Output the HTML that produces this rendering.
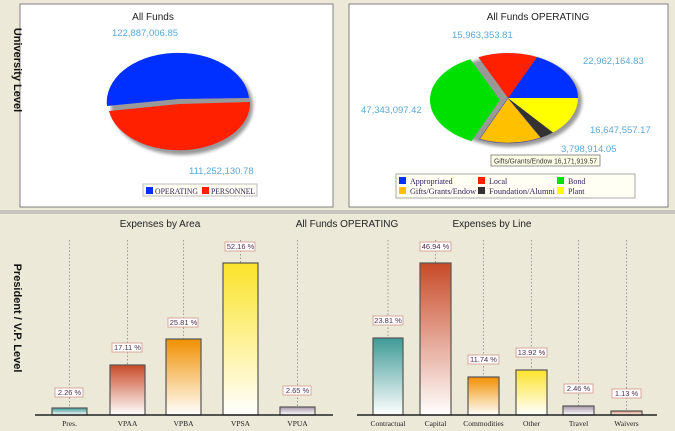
<!DOCTYPE html>
<html><head><meta charset="utf-8"><style>
html,body{margin:0;padding:0;background:#ece9d8;}
svg{display:block;font-family:"Liberation Sans",sans-serif;}
.v{fill:#5aa8d8;font-size:9.5px;}
.t{fill:#222;font-size:10px;}
.lb{fill:#fff;stroke:#d8a898;stroke-width:1;}
.lt{fill:#503050;font-size:7.5px;text-anchor:middle;}
.ct{fill:#222;font-size:7.5px;font-family:"Liberation Serif",serif;text-anchor:middle;}
.dl{stroke:#999;stroke-dasharray:1.5,2;stroke-width:1;}
.bar{stroke:#555;stroke-width:1.2;}
.lg{font-family:"Liberation Serif",serif;font-size:8px;fill:#302060;}
</style></head><body>
<svg width="675" height="431" viewBox="0 0 675 431">
<defs>
<linearGradient id="gT" x1="0" y1="0" x2="0" y2="1"><stop offset="0" stop-color="#3f9a96"/><stop offset="1" stop-color="#fff"/></linearGradient>
<linearGradient id="gR" x1="0" y1="0" x2="0" y2="1"><stop offset="0" stop-color="#c84a28"/><stop offset="1" stop-color="#fff"/></linearGradient>
<linearGradient id="gO" x1="0" y1="0" x2="0" y2="1"><stop offset="0" stop-color="#f09000"/><stop offset="1" stop-color="#fff"/></linearGradient>
<linearGradient id="gY" x1="0" y1="0" x2="0" y2="1"><stop offset="0" stop-color="#fbe32a"/><stop offset="1" stop-color="#fff"/></linearGradient>
<linearGradient id="gP" x1="0" y1="0" x2="0" y2="1"><stop offset="0" stop-color="#a898a8"/><stop offset="1" stop-color="#fff"/></linearGradient>
<linearGradient id="gB" x1="0" y1="0" x2="0" y2="1"><stop offset="0" stop-color="#d88860"/><stop offset="1" stop-color="#fff"/></linearGradient>
<filter id="bl"><feGaussianBlur stdDeviation="1.5"/></filter>
</defs>
<rect x="20" y="4" width="313" height="203" fill="#fff" stroke="#808080" stroke-width="1"/>
<rect x="349" y="4" width="319" height="203" fill="#fff" stroke="#808080" stroke-width="1"/>
<line x1="0" y1="211" x2="675" y2="211" stroke="#a0a0a0"/>
<line x1="0" y1="213" x2="675" y2="213" stroke="#a0a0a0"/>
<text transform="translate(14,70) rotate(90)" text-anchor="middle" font-size="11" font-weight="bold" fill="#111">University Level</text>
<text transform="translate(14,318) rotate(90)" text-anchor="middle" font-size="11" font-weight="bold" fill="#111">President / V.P. Level</text>

<text x="153" y="20" class="t" text-anchor="middle">All Funds</text>
<text x="112" y="36" class="v">122,887,006.85</text>
<text x="189" y="174" class="v">111,252,130.78</text>
<ellipse cx="182" cy="106" rx="71" ry="49" fill="#999" filter="url(#bl)"/>
<path d="M178,99 L249,98 A71 49 0 1 0 107,106 Z" fill="#0030ff"/>
<path d="M179,104 L109,111 A71 47 0 0 0 250,102 Z" fill="#ff2000"/>
<rect x="143" y="184" width="114" height="12" fill="#fffff4" stroke="#bbb"/>
<rect x="146" y="187" width="7" height="7" fill="#0030ff"/>
<text x="155" y="194" class="lg" font-size="7" textLength="43" lengthAdjust="spacingAndGlyphs">OPERATING</text>
<rect x="202" y="187" width="7" height="7" fill="#ff2000"/>
<text x="211" y="194" class="lg" font-size="7" textLength="44" lengthAdjust="spacingAndGlyphs">PERSONNEL</text>

<text x="538" y="20" class="t" text-anchor="middle">All Funds  OPERATING</text>
<text x="452" y="38" class="v">15,963,353.81</text>
<text x="583" y="64" class="v">22,962,164.83</text>
<text x="361" y="113" class="v">47,343,097.42</text>
<text x="590" y="133" class="v">16,647,557.17</text>
<text x="561" y="152" class="v">3,798,914.05</text>
<ellipse cx="510" cy="101" rx="72" ry="46" fill="#999" filter="url(#bl)"/>
<path d="M500,100 L470.4,59.2 A70 45 0 0 0 471.5,141.1 Z" fill="#00e000"/>
<path d="M508,98 L578,98 A70 45 0 0 0 537,57 Z" fill="#0030ff"/>
<path d="M508,98 L537,57 A70 45 0 0 0 478.4,57.2 Z" fill="#ff2000"/>
<path d="M508,98 L479.5,139.1 A70 45 0 0 0 540.9,137.7 Z" fill="#ffc000" stroke="#5050a0" stroke-width="0.6"/>
<path d="M508,98 L540.9,137.7 A70 45 0 0 0 553,132.5 Z" fill="#333"/>
<path d="M508,98 L553,132.5 A70 45 0 0 0 578,98 Z" fill="#ffff00"/>
<rect x="491" y="155" width="109" height="11" fill="#ffffe8" stroke="#777" stroke-width="0.8"/>
<text x="494" y="163.5" font-size="7" fill="#333" textLength="103" lengthAdjust="spacingAndGlyphs">Gifts/Grants/Endow 16,171,919.57</text>
<rect x="396" y="174" width="239" height="24" fill="#fffff4" stroke="#aaa"/>
<rect x="399" y="177" width="7" height="7" fill="#0030ff"/><text x="410" y="184" class="lg">Appropriated</text>
<rect x="478" y="177" width="7" height="7" fill="#ff2000"/><text x="489" y="184" class="lg">Local</text>
<rect x="557" y="177" width="7" height="7" fill="#00e000"/><text x="568" y="184" class="lg">Bond</text>
<rect x="399" y="187" width="7" height="7" fill="#ffc000"/><text x="410" y="194" class="lg" textLength="66" lengthAdjust="spacingAndGlyphs">Gifts/Grants/Endow</text>
<rect x="478" y="187" width="7" height="7" fill="#333"/><text x="489" y="194" class="lg" textLength="66" lengthAdjust="spacingAndGlyphs">Foundation/Alumni</text>
<rect x="557" y="187" width="7" height="7" fill="#ffff00"/><text x="568" y="194" class="lg">Plant</text>

<text x="160" y="227" class="t" text-anchor="middle">Expenses by Area</text>
<text x="347" y="227" class="t" text-anchor="middle">All Funds  OPERATING</text>
<text x="492" y="227" class="t" text-anchor="middle">Expenses by Line</text>

<g>
<line class="dl" x1="69.5" y1="240" x2="69.5" y2="408"/>
<line class="dl" x1="127.5" y1="240" x2="127.5" y2="365"/>
<line class="dl" x1="183.5" y1="240" x2="183.5" y2="339"/>
<line class="dl" x1="240.5" y1="240" x2="240.5" y2="263"/>
<line class="dl" x1="297.5" y1="240" x2="297.5" y2="407"/>
<rect class="bar" x="52" y="408" width="35" height="7" fill="url(#gT)"/>
<rect class="bar" x="110" y="365" width="35" height="50" fill="url(#gR)"/>
<rect class="bar" x="166" y="339" width="35" height="76" fill="url(#gO)"/>
<rect class="bar" x="223" y="263" width="35" height="152" fill="url(#gY)"/>
<rect class="bar" x="280" y="407" width="35" height="8" fill="url(#gP)"/>
<rect class="lb" x="55" y="388" width="28" height="9"/><text class="lt" x="69.5" y="395">2.26 %</text>
<rect class="lb" x="112" y="343" width="30" height="9"/><text class="lt" x="127.5" y="350">17.11 %</text>
<rect class="lb" x="168" y="318" width="30" height="9"/><text class="lt" x="183.5" y="325">25.81 %</text>
<rect class="lb" x="225" y="242" width="30" height="9"/><text class="lt" x="240.5" y="249">52.16 %</text>
<rect class="lb" x="283" y="386" width="28" height="9"/><text class="lt" x="297.5" y="393">2.65 %</text>
<line x1="35" y1="415" x2="333" y2="415" stroke="#222" stroke-width="1.5"/>
<text class="ct" x="69.5" y="426">Pres.</text>
<text class="ct" x="127.5" y="426">VPAA</text>
<text class="ct" x="183.5" y="426">VPBA</text>
<text class="ct" x="240.5" y="426">VPSA</text>
<text class="ct" x="297.5" y="426">VPUA</text>
</g>

<g>
<line class="dl" x1="388" y1="240" x2="388" y2="338"/>
<line class="dl" x1="435.5" y1="240" x2="435.5" y2="263"/>
<line class="dl" x1="483.5" y1="240" x2="483.5" y2="377"/>
<line class="dl" x1="531.5" y1="240" x2="531.5" y2="370"/>
<line class="dl" x1="578.5" y1="240" x2="578.5" y2="406"/>
<line class="dl" x1="626.5" y1="240" x2="626.5" y2="411"/>
<rect class="bar" x="373" y="338" width="30" height="77" fill="url(#gT)"/>
<rect class="bar" x="420" y="263" width="31" height="152" fill="url(#gR)"/>
<rect class="bar" x="468" y="377" width="31" height="38" fill="url(#gO)"/>
<rect class="bar" x="516" y="370" width="31" height="45" fill="url(#gY)"/>
<rect class="bar" x="563" y="406" width="31" height="9" fill="url(#gP)"/>
<rect class="bar" x="611" y="411" width="31" height="4" fill="url(#gB)"/>
<rect class="lb" x="373" y="316" width="30" height="9"/><text class="lt" x="388" y="323">23.81 %</text>
<rect class="lb" x="420" y="242" width="31" height="9"/><text class="lt" x="435.5" y="249">46.94 %</text>
<rect class="lb" x="468" y="355" width="31" height="9"/><text class="lt" x="483.5" y="362">11.74 %</text>
<rect class="lb" x="516" y="348" width="31" height="9"/><text class="lt" x="531.5" y="355">13.92 %</text>
<rect class="lb" x="564" y="384" width="29" height="9"/><text class="lt" x="578.5" y="391">2.46 %</text>
<rect class="lb" x="612" y="389" width="29" height="9"/><text class="lt" x="626.5" y="396">1.13 %</text>
<line x1="357" y1="415" x2="657" y2="415" stroke="#222" stroke-width="1.5"/>
<text class="ct" x="388" y="426">Contractual</text>
<text class="ct" x="435.5" y="426">Capital</text>
<text class="ct" x="483.5" y="426">Commodities</text>
<text class="ct" x="531.5" y="426">Other</text>
<text class="ct" x="578.5" y="426">Travel</text>
<text class="ct" x="626.5" y="426">Waivers</text>
</g>
</svg>
</body></html>
